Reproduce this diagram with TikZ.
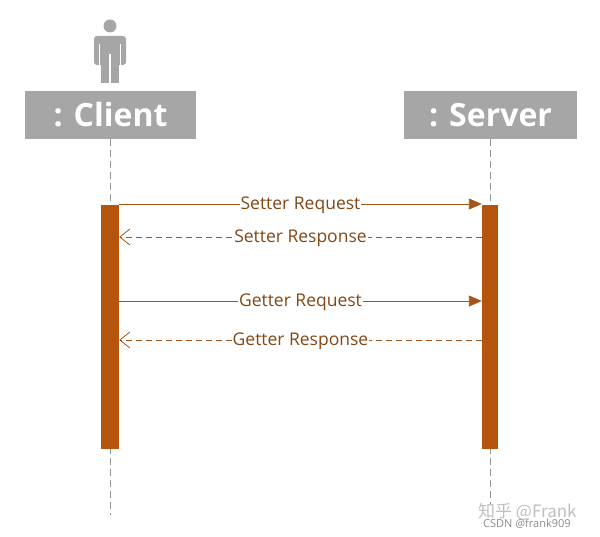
\documentclass[tikz,border=0pt]{standalone}
\usepackage{fontspec}
\setmainfont{Open Sans}
\newfontfamily\cjkfont{Noto Sans CJK SC}
\usetikzlibrary{arrows.meta}
\definecolor{boxgray}{RGB}{166,166,166}
\definecolor{lifegray}{RGB}{150,150,150}
\definecolor{barbrown}{RGB}{181,84,12}
\definecolor{linebrown}{RGB}{165,85,25}
\definecolor{textbrown}{RGB}{130,72,22}
\tikzset{
  x=1pt, y=-1pt,
  header/.style={fill=boxgray, text=white, font=\fontsize{32}{32}\selectfont\bfseries, minimum height=48pt, inner sep=0pt},
  lifeline/.style={draw=lifegray, line width=0.8pt, dash pattern=on 7pt off 4pt},
  actbar/.style={fill=barbrown, draw=none},
  msglabel/.style={fill=white, text=textbrown, font=\fontsize{17.5}{17.5}\selectfont, inner sep=1pt, yshift=-1.5pt},
  callmsg/.style={draw=linebrown, line width=0.9pt, -{Triangle[length=13pt,width=11pt]}},
  retmsg/.style={draw=linebrown, line width=0.9pt, dash pattern=on 6pt off 4pt, -{Straight Barb[length=10pt,width=16pt,line width=0.8pt]}},
  wmark/.style={text=black!25, inner sep=0pt}
}
\begin{document}
\begin{tikzpicture}
\useasboundingbox (0,0) rectangle (600,537);
% actor icon
\fill[boxgray] (110,26) circle (6.5);
\fill[boxgray, rounded corners=3pt] (94,65) -- (94,36) -- (126,36) -- (126,65) -- cycle;
\fill[boxgray] (101,64) rectangle (119,83);
\draw[white, line width=1.2pt] (99.5,44) -- (99.5,66) (120.5,44) -- (120.5,66) (110,54) -- (110,84);
% headers
\node[header, minimum width=171pt] (client) at (110.5,115) {: Client};
\node[header, minimum width=173pt] (server) at (490.5,115) {: Server};
% lifeline ends
\coordinate (cend) at (110,515);
\coordinate (send) at (490,505);
\draw[lifeline] (client.south -| cend) -- (cend);
\draw[lifeline] (server.south -| send) -- (send);
% activation bars
\node[actbar, minimum width=18pt, minimum height=244pt, inner sep=0pt, anchor=north] (cbar) at (110,205) {};
\node[actbar, minimum width=16pt, minimum height=244pt, inner sep=0pt, anchor=north] (sbar) at (490,205) {};
% messages
\coordinate (c1) at (cbar.east |- 0,204);
\coordinate (s1) at (sbar.west |- 0,204);
\draw[callmsg] (c1) -- (s1) node[midway, msglabel] (m1) {Setter Request};
\coordinate (c2) at (cbar.east |- 0,237);
\coordinate (s2) at (sbar.west |- 0,237);
\draw[retmsg] (s2) -- (c2) node[midway, msglabel] (m2) {Setter Response};
\coordinate (c3) at (cbar.east |- 0,301);
\coordinate (s3) at (sbar.west |- 0,301);
\draw[callmsg] (c3) -- (s3) node[midway, msglabel] (m3) {Getter Request};
\coordinate (c4) at (cbar.east |- 0,340);
\coordinate (s4) at (sbar.west |- 0,340);
\draw[retmsg] (s4) -- (c4) node[midway, msglabel] (m4) {Getter Response};
% watermark
\node[wmark, font=\cjkfont\fontsize{17}{17}\selectfont, anchor=west] (wm1) at (478,512) {知乎 @Frank};
\node[wmark, text=black!45, font=\fontsize{11}{11}\selectfont, anchor=west] (wm2) at (483,524) {CSDN @frank909};
\end{tikzpicture}
\end{document}
